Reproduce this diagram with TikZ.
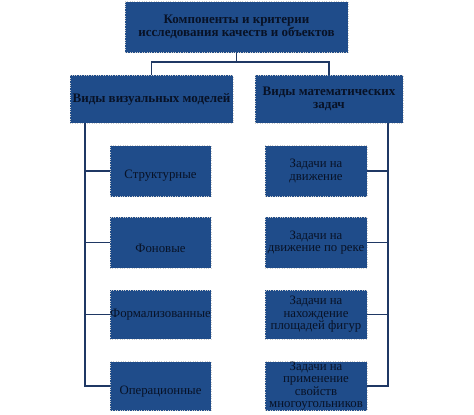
\documentclass[tikz,border=0pt]{standalone}
\usepackage{fontspec}
\setmainfont{Liberation Serif}
\usetikzlibrary{calc}
\definecolor{boxblue}{HTML}{1F4C8A}
\definecolor{linenavy}{HTML}{1F3864}
\definecolor{textnavy}{HTML}{081226}
\tikzset{
  blk/.style={draw=gray!40,dotted,fill=boxblue,text=textnavy,align=center,inner sep=0pt,
    font=\fontsize{12.8}{12.5}\selectfont},
  head/.style={blk,font=\fontsize{13}{13}\selectfont\bfseries},
  trunk/.style={draw=linenavy,line width=1.5pt,solid},
  stub/.style={trunk,line width=1.7pt}
}
\begin{document}
\begin{tikzpicture}[x=1pt,y=-1pt]
        \useasboundingbox (0,0) rectangle (474,415);

        \node[head,minimum width=223pt,minimum height=51pt] (top) at (236.5,27) {Компоненты и критерии\\исследования качеств и объектов};
        \node[head,minimum width=163pt,minimum height=48pt] (vis) at (151.5,99) {Виды визуальных моделей};
        \node[head,minimum width=148pt,minimum height=48pt] (mat) at (329,99) {Виды математических\\задач};

        \node[blk,minimum width=101pt,minimum height=51pt] (str) at (160.5,171) {\\[6pt]Структурные};
        \node[blk,minimum width=101pt,minimum height=51pt] (fon) at (160.5,242.5) {\\[8pt]Фоновые};
        \node[blk,minimum width=101pt,minimum height=49pt] (frm) at (160.5,314.5) {Формализованные};
        \node[blk,minimum width=101pt,minimum height=49pt] (opr) at (160.5,386) {\\[8pt]Операционные};

        \node[blk,minimum width=102pt,minimum height=51pt] (dv) at (316,171) {Задачи на\\движение};
        \node[blk,minimum width=102pt,minimum height=51pt] (rk) at (316,242.5) {\\[-4pt]Задачи на\\движение по реке};
        \node[blk,minimum width=102pt,minimum height=49pt] (pl) at (316,314.5) {Задачи на\\нахождение\\площадей фигур};
        \node[blk,minimum width=102pt,minimum height=49pt] (mn) at (316,386) {Задачи на\\применение\\свойств\\многоугольников};

        \coordinate (lt) at ($(vis.south west)+(15,0)$);
        \coordinate (rt) at ($(mat.south east)+(-15,0)$);

        \draw[stub] (top.south) -- ++(0,9) -| (vis.north);
        \draw[stub] (top.south) ++(0,9) -| (mat.north);

        \draw[trunk] (lt) -- (lt |- frm.west);
        \draw[stub] (lt |- frm.west) |- (opr.west);
        \draw[stub] (lt |- str.west) -- (str.west);
        \draw[stub] (lt |- fon.west) -- (fon.west);
        \draw[stub] (lt |- frm.west) -- (frm.west);

        \draw[trunk] (rt) -- (rt |- pl.east);
        \draw[stub] (rt |- pl.east) |- (mn.east);
        \draw[stub] (rt |- dv.east) -- (dv.east);
        \draw[stub] (rt |- rk.east) -- (rk.east);
        \draw[stub] (rt |- pl.east) -- (pl.east);

      \end{tikzpicture}
\end{document}
